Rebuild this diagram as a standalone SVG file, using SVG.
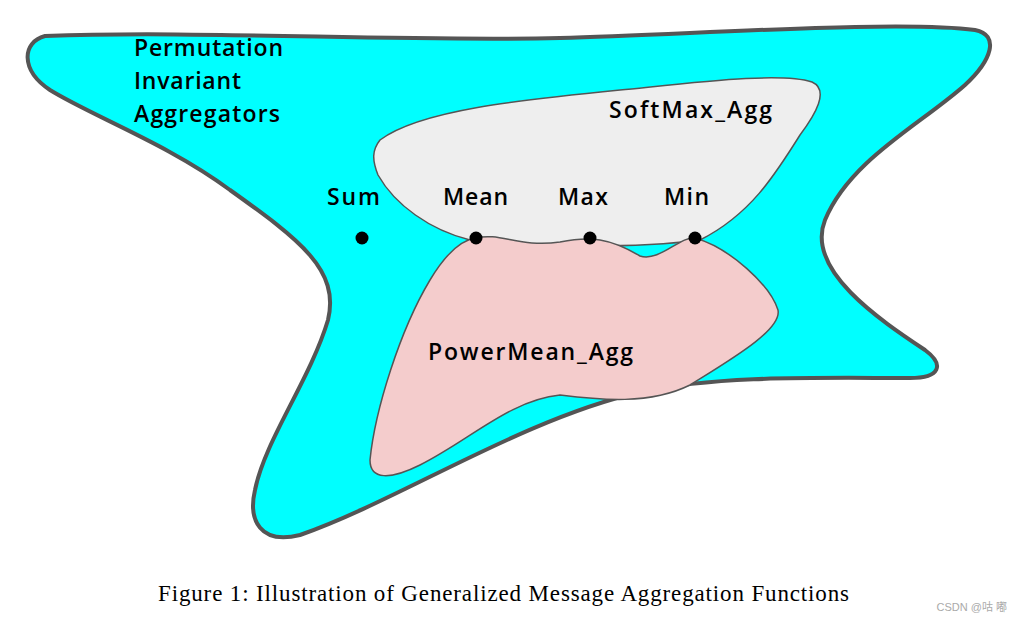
<svg xmlns="http://www.w3.org/2000/svg" width="1022" height="623" viewBox="0 0 1022 623">
<style>
.l{font-family:"Open Sans","DejaVu Sans",sans-serif;font-size:23px;font-weight:600;fill:#000}
.d{fill:#000}
</style>
<rect width="1022" height="623" fill="#fff"/>
<g id="permutation-invariant">
<path d="M45,36 C200,30 400,42 560,38 C700,34 900,20 975,30 C1000,35 992,60 965,85 C920,125 850,160 825,220 C805,270 880,320 925,350 C945,365 940,378 910,378 C820,378 720,375 640,392 C520,420 400,500 300,535 C260,545 248,520 255,490 C265,440 310,380 328,320 C340,270 300,240 230,190 C170,145 90,115 50,90 C20,70 22,42 45,36 Z" fill="#00ffff" stroke="#555" stroke-width="4"/>
<text class="l" x="134" y="56" textLength="149">Permutation</text>
<text class="l" x="134" y="89" textLength="107">Invariant</text>
<text class="l" x="134" y="122" textLength="146">Aggregators</text>
</g>
<g id="softmax">
<path d="M380,140 C420,110 520,100 620,90 C700,82 780,72 812,82 C830,90 815,115 800,135 C775,175 750,215 700,240 C640,248 540,248 470,240 C430,230 395,205 378,175 C372,160 372,150 380,140 Z" fill="#eeeeee" stroke="#555" stroke-width="1.5"/>
<text class="l" x="609" y="118" textLength="163">SoftMax_Agg</text>
</g>
<g id="powermean">
<path d="M476,238 C500,232 520,248 560,242 C590,236 610,238 640,256 C660,262 680,236 695,238 C730,248 770,285 778,310 C782,330 730,360 690,385 C650,405 600,400 560,395 C510,400 470,440 420,465 C390,480 370,480 370,460 C375,410 400,330 430,280 C445,255 460,240 476,238 Z" fill="#f4cccc" stroke="#555" stroke-width="1.5"/>
<text class="l" x="428" y="360" textLength="205">PowerMean_Agg</text>
</g>
<g id="points">
<text class="l" x="327" y="205" textLength="53">Sum</text>
<text class="l" x="443" y="205" textLength="65">Mean</text>
<text class="l" x="558" y="205" textLength="50">Max</text>
<text class="l" x="664" y="205" textLength="45">Min</text>
<circle class="d" cx="362" cy="238" r="6.5"/>
<circle class="d" cx="476" cy="238" r="6.5"/>
<circle class="d" cx="590" cy="238" r="6.5"/>
<circle class="d" cx="695" cy="238" r="6.5"/>
</g>
<text x="158" y="601" textLength="691" font-family="Liberation Serif,serif" font-size="23">Figure 1: Illustration of Generalized Message Aggregation Functions</text>
<text x="1007" y="611" text-anchor="end" font-family="Liberation Sans,Noto Sans CJK SC,sans-serif" font-size="11" fill="#aaa">CSDN @咕 嘟</text>
</svg>
